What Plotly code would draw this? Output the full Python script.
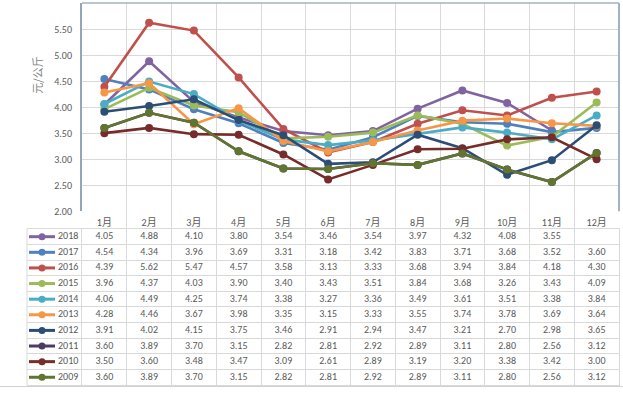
import plotly.graph_objects as go

months = ["1月", "2月", "3月", "4月", "5月", "6月", "7月", "8月", "9月", "10月", "11月", "12月"]
years = ["2018", "2017", "2016", "2015", "2014", "2013", "2012", "2011", "2010", "2009"]

v2018 = [4.05, 4.88, 4.10, 3.80, 3.54, 3.46, 3.54, 3.97, 4.32, 4.08, 3.55, None]
v2017 = [4.54, 4.34, 3.96, 3.69, 3.31, 3.18, 3.42, 3.83, 3.71, 3.68, 3.52, 3.60]
v2016 = [4.39, 5.62, 5.47, 4.57, 3.58, 3.13, 3.33, 3.68, 3.94, 3.84, 4.18, 4.30]
v2015 = [3.96, 4.37, 4.03, 3.90, 3.40, 3.43, 3.51, 3.84, 3.68, 3.26, 3.43, 4.09]
v2014 = [4.06, 4.49, 4.25, 3.74, 3.38, 3.27, 3.36, 3.49, 3.61, 3.51, 3.38, 3.84]
v2013 = [4.28, 4.46, 3.67, 3.98, 3.35, 3.15, 3.33, 3.55, 3.74, 3.78, 3.69, 3.64]
v2012 = [3.91, 4.02, 4.15, 3.75, 3.46, 2.91, 2.94, 3.47, 3.21, 2.70, 2.98, 3.65]
v2011 = [3.60, 3.89, 3.70, 3.15, 2.82, 2.81, 2.92, 2.89, 3.11, 2.80, 2.56, 3.12]
v2010 = [3.50, 3.60, 3.48, 3.47, 3.09, 2.61, 2.89, 3.19, 3.20, 3.38, 3.42, 3.00]
v2009 = [3.60, 3.89, 3.70, 3.15, 2.82, 2.81, 2.92, 2.89, 3.11, 2.80, 2.56, 3.12]

series = [v2018, v2017, v2016, v2015, v2014, v2013, v2012, v2011, v2010, v2009]
colors = ["#8064A2", "#4F81BD", "#C0504D", "#9BBB59", "#4BACC6",
          "#F79646", "#2C4D75", "#4D3B62", "#772C2A", "#5F7530"]

y_ticks = [2.0, 2.5, 3.0, 3.5, 4.0, 4.5, 5.0, 5.5, 6.0]
y_title = "元/公斤"

W, H = 623, 396
def px_x(p):
    return min(max(p / W, 0), 1)
def px_y(p):
    return min(max(1 - p / H, 0), 1)

FONT = "Calibri, Carlito, Liberation Sans, Noto Sans CJK SC"
TXT = "#595959"
GRID = "#D9D9D9"
FRAME = "#A3B2C5"
NCAT = len(months)
NROW = len(years)

fig = go.Figure()

# main lines
for yr, vals, c in zip(years, series, colors):
    fig.add_trace(go.Scatter(
        x=months, y=vals, mode="lines+markers", name=yr,
        line=dict(color=c, width=2.6),
        marker=dict(color=c, size=8),
        xaxis="x", yaxis="y", showlegend=False, hoverinfo="skip"))

# table value text
for yr, vals in zip(years, series):
    fig.add_trace(go.Scatter(
        x=months, y=[yr] * NCAT, mode="text",
        text=["" if v is None else f"{v:.2f}" for v in vals],
        textfont=dict(family=FONT, size=10, color=TXT),
        xaxis="x2", yaxis="y2", showlegend=False, hoverinfo="skip"))

# legend keys in table first column (x3 in pixel units from table left edge)
for yr, c in zip(years, colors):
    fig.add_trace(go.Scatter(
        x=[2, 15, 28], y=[yr] * 3, mode="lines",
        line=dict(color=c, width=3),
        xaxis="x3", yaxis="y2", showlegend=False, hoverinfo="skip"))
    fig.add_trace(go.Scatter(
        x=[15], y=[yr], mode="markers",
        marker=dict(color=c, size=7),
        xaxis="x3", yaxis="y2", showlegend=False, hoverinfo="skip"))
    fig.add_trace(go.Scatter(
        x=[31], y=[yr], mode="text", text=[yr], textposition="middle right",
        textfont=dict(family=FONT, size=10, color=TXT),
        xaxis="x3", yaxis="y2", showlegend=False, hoverinfo="skip"))

# invisible trace: header row strip so its vertical grid lines are drawn
fig.add_trace(go.Scatter(x=months, y=[0.5] * NCAT, mode="markers",
                         marker=dict(opacity=0),
                         xaxis="x2", yaxis="y3", showlegend=False, hoverinfo="skip"))

fig.update_layout(
    width=W, height=H, autosize=False,
    margin=dict(l=0, r=0, t=0, b=0),
    paper_bgcolor="white", plot_bgcolor="rgba(0,0,0,0)",
    font=dict(family=FONT, size=10, color=TXT),
    xaxis=dict(
        domain=[px_x(82), px_x(619)], anchor="y",
        type="category", categoryorder="array", categoryarray=months,
        range=[-0.5, NCAT - 0.5],
        tickson="boundaries", showgrid=True, gridcolor=GRID, gridwidth=1,
        ticks="", showline=False, zeroline=False, ticklabelstandoff=4,
        tickfont=dict(family=FONT, size=10, color=TXT),
    ),
    yaxis=dict(
        domain=[px_y(215), px_y(3)], anchor="x",
        range=[2, 6.001], tickvals=y_ticks, tickformat=".2f",
        showgrid=True, gridcolor=GRID, gridwidth=1, zeroline=False,
        showline=True, linecolor="#93A5BA", linewidth=2,
        ticks="", ticklabelstandoff=6,
        tickfont=dict(family=FONT, size=10, color=TXT),
    ),
    # table body (values)
    xaxis2=dict(
        domain=[px_x(82), px_x(619)], anchor="y2",
        type="category", categoryorder="array", categoryarray=months,
        range=[-0.5, NCAT - 0.5],
        tickson="boundaries", showgrid=True, gridcolor=GRID, gridwidth=1,
        showticklabels=False, ticks="", zeroline=False,
        showline=True, linecolor=GRID, linewidth=1, mirror=True,
    ),
    yaxis2=dict(
        domain=[px_y(392), px_y(233)], anchor="x2",
        type="category", categoryorder="array", categoryarray=years[::-1],
        range=[-0.5, NROW - 0.5],
        tickson="boundaries", showgrid=True, gridcolor=GRID, gridwidth=1,
        showticklabels=False, ticks="", zeroline=False,
        showline=True, linecolor=GRID, linewidth=1, mirror=True,
    ),
    # header strip between plot and table
    yaxis3=dict(
        domain=[px_y(233), px_y(215)], anchor="x2", range=[0, 1],
        showgrid=False, showticklabels=False, ticks="", showline=False, zeroline=False,
    ),
    # legend-key column
    xaxis3=dict(
        domain=[px_x(27), px_x(82)], anchor="y2", range=[0, 55],
        showgrid=False, showticklabels=False, ticks="", zeroline=False,
        showline=True, linecolor=GRID, linewidth=1, mirror=True,
    ),
    annotations=[dict(
        text=y_title, textangle=-90, xref="paper", yref="paper",
        x=px_x(37), y=px_y(77), xanchor="center", yanchor="middle",
        showarrow=False,
        font=dict(family="Noto Sans CJK SC", size=11, color="#7F7F7F"),
    )],
    shapes=[
        dict(type="line", xref="paper", yref="paper",
             x0=0, x1=1, y0=px_y(393.5), y1=px_y(393.5),
             line=dict(color="#D0D0D0", width=1)),
        dict(type="line", xref="x3 domain", yref="y2 domain",
             x0=0, x1=0, y0=0, y1=1, line=dict(color=GRID, width=1)),
        dict(type="line", xref="x domain", yref="y domain",
             x0=0, x1=1, y0=1, y1=1, line=dict(color=FRAME, width=1.5)),
        dict(type="line", xref="x domain", yref="y domain",
             x0=1, x1=1, y0=0, y1=1, line=dict(color=FRAME, width=2)),
    ],
)

fig.write_html(
    "out.html",
    config={"displayModeBar": False, "staticPlot": True},
    post_script=(
        "var s=document.createElement('style');"
        "s.textContent='html,body{margin:0;padding:0;overflow:hidden;height:396px;width:623px;}"
        ".plotly-graph-div{display:block;}';"
        "document.head.appendChild(s);"
    ),
)
